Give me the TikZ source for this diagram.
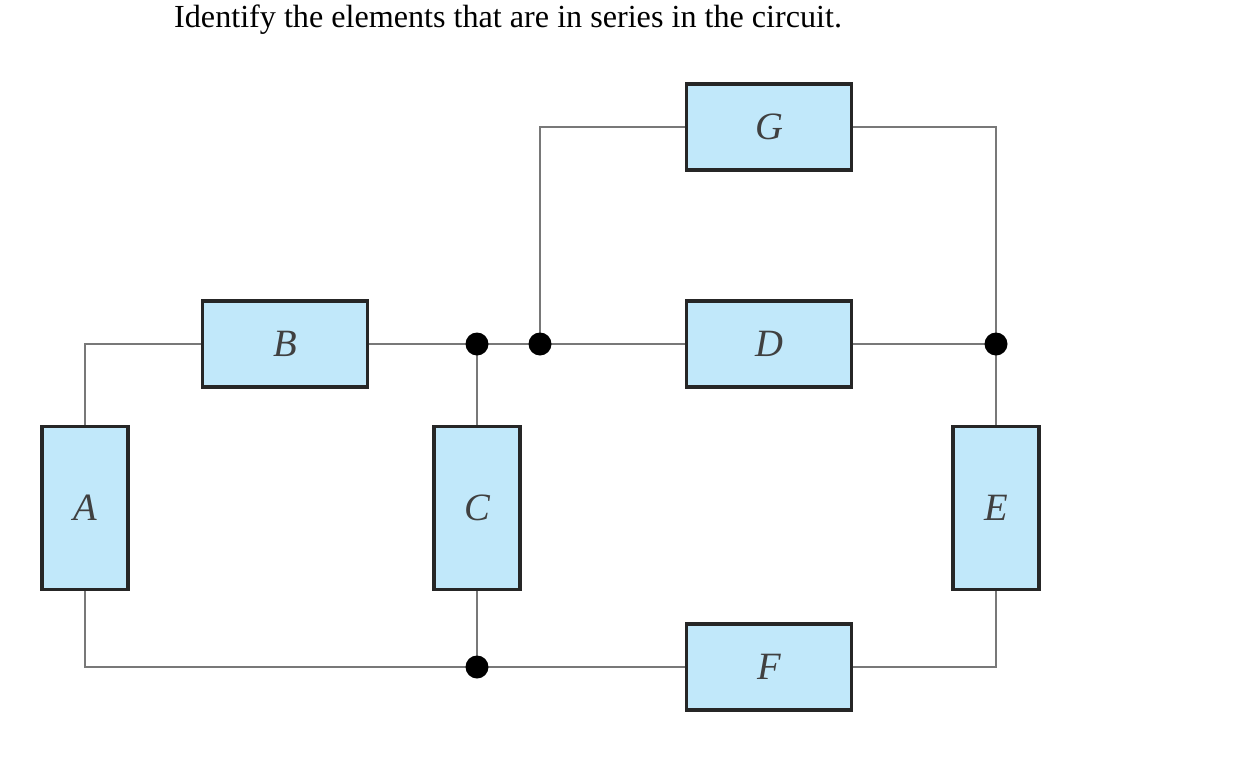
\documentclass[tikz,border=0pt]{standalone}
\usepackage{fontspec}
\setmainfont{Liberation Serif}
\usetikzlibrary{positioning}
\definecolor{boxblue}{RGB}{193,232,250}
\definecolor{wire}{RGB}{120,120,120}

\begin{document}
\begin{tikzpicture}[x=0.02cm, y=-0.02cm,
  hbox/.style={draw=black!85, line width=2pt, fill=boxblue, minimum width=3.3cm, minimum height=1.72cm, font=\fontsize{22}{24}\selectfont\itshape, text=black!75},
  vbox/.style={hbox, minimum width=1.72cm, minimum height=3.26cm},
  wr/.style={draw=wire, line width=1.1pt},
  dot/.style={circle, fill=black, inner sep=0pt, minimum size=0.46cm}
]
\useasboundingbox (0,0) rectangle (1242,758);
\node[anchor=west, font=\fontsize{18.3}{20}\selectfont] (title) at (168,20) {Identify the elements that are in series in the circuit.};

% elements
\node[vbox] (A) at (85,508) {A};
\node[hbox] (B) at (285,344) {B};
\node[vbox] (C) at (477,508) {C};
\node[hbox] (G) at (769,127) {G};
\node[hbox] (D) at (769,344) {D};
\node[vbox] (E) at (996,508) {E};
\node[hbox] (F) at (769,667) {F};

% junctions
\coordinate (tl) at (85,344);
\coordinate (bl) at (85,667);
\coordinate (tr) at (996,127);
\coordinate (br) at (996,667);
\coordinate (gl) at (540,127);
\coordinate (j1) at (477,344);
\coordinate (j2) at (540,344);
\coordinate (j3) at (996,344);
\coordinate (j4) at (477,667);

% wires
\draw[wr] (A.north) -- (tl) -- (B.west);
\draw[wr] (B.east) -- (j1) -- (j2) -- (D.west);
\draw[wr] (j1) -- (C.north);
\draw[wr] (C.south) -- (j4);
\draw[wr] (A.south) -- (bl) -- (j4) -- (F.west);
\draw[wr] (F.east) -- (br) -- (E.south);
\draw[wr] (E.north) -- (j3) -- (D.east);
\draw[wr] (j2) -- (gl) -- (G.west);
\draw[wr] (G.east) -- (tr) -- (j3);
\foreach \j in {j1,j2,j3,j4} \node[dot] at (\j) {};
\end{tikzpicture}
\end{document}
